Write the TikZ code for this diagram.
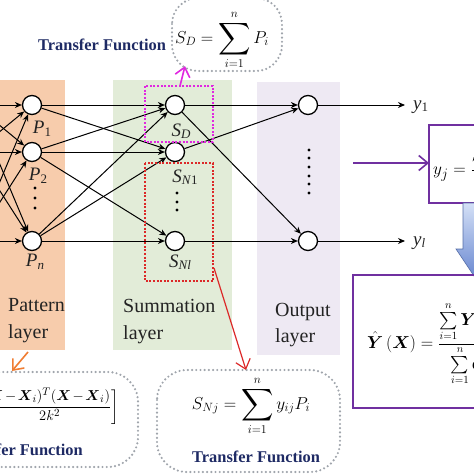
\documentclass[tikz,border=0pt]{standalone}
\usepackage{amsmath}
\usepackage{graphicx}
\usepackage{fontspec}
\setmainfont{Liberation Serif}
\usetikzlibrary{arrows.meta}
\definecolor{patorange}{RGB}{247,204,172}
\definecolor{sumgreen}{RGB}{226,236,216}
\definecolor{outlav}{RGB}{238,233,243}
\definecolor{navy}{RGB}{30,42,100}
\definecolor{purp}{RGB}{112,48,160}
\definecolor{magen}{RGB}{224,40,224}
\definecolor{dotred}{RGB}{220,40,40}
\definecolor{dotgray}{RGB}{160,165,172}
\definecolor{arrorange}{RGB}{240,125,50}
\definecolor{blueL}{RGB}{212,224,246}
\definecolor{blueD}{RGB}{108,138,210}
\definecolor{txtdark}{RGB}{35,35,35}
\newcommand\mylab[2]{\textit{#1}\raisebox{-2.5pt}{\fontsize{13}{13}\selectfont #2}}
\newcommand\bigsumop{\mathop{\vcenter{\hbox{\scalebox{1.3}{$\displaystyle\sum$}}}}\limits}
\newcommand\tmin{\mkern2mu{-}\mkern2mu}
\tikzset{
  neuron/.style={circle,draw,line width=1.3pt,minimum size=19pt,inner sep=0pt,fill=white},
  conn/.style={line width=1pt,-{Stealth[length=7pt,width=6pt]}},
  lbl/.style={font=\fontsize{19}{21}\selectfont,inner sep=0pt,text=txtdark},
  layertxt/.style={font=\fontsize{20}{24}\selectfont,text=txtdark,inner sep=0pt,anchor=base west},
  tftxt/.style={font=\fontsize{16.4}{18}\selectfont\bfseries,text=navy,inner sep=0pt,anchor=base west},
  dotbox/.style={draw=dotgray,line width=2.4pt,dash pattern=on 0pt off 4.2pt,line cap=round,rounded corners=26pt},
  barb/.style={-{Straight Barb[length=9pt,width=15pt]},line width=1.6pt},
  vdot/.style={circle,fill=black,inner sep=0pt,minimum size=3.2pt},
  fml/.style={inner sep=0pt,font=\fontsize{17}{20}\selectfont}
}
\begin{document}
\begin{tikzpicture}[x=1pt,y=-1pt]
\useasboundingbox (0,0) rectangle (474,474);
\clip (0,0) rectangle (474,474);
% layer backgrounds
\fill[patorange] (-5,80) rectangle (65,350);
\fill[sumgreen] (113,80) rectangle (232,350);
\fill[outlav] (257,82) rectangle (340,355);
% layer texts
\node[layertxt] (tpat1) at (8,311) {Pattern};
\node[layertxt] (tpat2) at (8,338) {layer};
\node[layertxt] (tsum1) at (123,312) {Summation};
\node[layertxt] (tsum2) at (123,339) {layer};
\node[layertxt] (tout1) at (275,316) {Output};
\node[layertxt] (tout2) at (275,342) {layer};
% neurons
\node[neuron] (P1) at (32,105) {};
\node[neuron] (P2) at (32,152) {};
\node[neuron] (Pn) at (32,241) {};
\node[neuron] (SD) at (175,105) {};
\node[neuron] (SN1) at (175,152) {};
\node[neuron] (SNl) at (175,241) {};
\node[neuron] (Y1) at (308,105) {};
\node[neuron] (Yl) at (308,241) {};
% inputs (outside the frame)
\coordinate (X1) at (-25,105);
\coordinate (X2) at (-25,152);
\coordinate (Xn) at (-25,241);
\foreach \a in {X1,X2,Xn}
  \foreach \b in {P1,P2,Pn}
    \draw[conn] (\a) -- (\b);
\foreach \a/\b in {P1/SD,P1/SN1,P2/SD,P2/SN1,P2/SNl,Pn/SD,Pn/SN1,Pn/SNl,SD/Y1,SD/Yl,SN1/Y1,SNl/Yl}
  \draw[conn] (\a) -- (\b);
\coordinate (o1) at (405,105);
\coordinate (ol) at (405,241);
\draw[conn] (Y1) -- (o1);
\draw[conn] (Yl) -- (ol);
\node[lbl,anchor=west] (ly1) at (413,107) {\mylab{y}{1}};
\node[lbl,anchor=west] (lyl) at (413,243) {\mylab{y}{\textit{l}}};
% neuron labels
\node[lbl] (lP1) at (42,129) {\mylab{P}{1}};
\node[lbl] (lP2) at (38,176) {\mylab{P}{2}};
\node[lbl] (lPn) at (35,262) {\mylab{P}{\textit{n}}};
\node[lbl] (lSD) at (181,131) {\mylab{S}{\textit{D}}};
\node[lbl] (lSN1) at (185,177) {\mylab{S}{\textit{N}1}};
\node[lbl] (lSNl) at (180,262) {\mylab{S}{\textit{Nl}}};
% vertical dots
\foreach \yy [count=\k] in {188,198,208} \node[vdot] (dp\k) at (35,\yy) {};
\foreach \yy [count=\k] in {193,202,210} \node[vdot] (ds\k) at (177,\yy) {};
\foreach \yy [count=\k] in {150,158,167,176,184,193} \node[vdot] (do\k) at (309,\yy) {};
% highlight boxes
\draw[magen,line width=1.3pt,dash pattern=on 2pt off 1.6pt] (145,86) rectangle (213,142);
\draw[dotred,line width=1.3pt,dash pattern=on 2pt off 1.6pt] (145,163) rectangle (213,281);
\coordinate (mgA) at (180,86);
\coordinate (mgB) at (185,66);
\draw[barb,magen] (mgA) -- (mgB);
\coordinate (rdA) at (214,268);
\coordinate (rdB) at (246,370);
\draw[barb,dotred,line width=1.2pt] (rdA) -- (rdB);
\coordinate (orA) at (28,352);
\coordinate (orB) at (12,371);
\draw[barb,arrorange] (orA) -- (orB);
% top transfer function
\draw[dotbox] (172,-2) rectangle (282,71);
\node[fml] (fSD) at (222,40) {$\displaystyle S_D=\bigsumop_{i=1}^{n}P_i$};
\node[tftxt] (tf1) at (38,50) {Transfer Function};
% bottom-left transfer function
\draw[dotbox,rounded corners=30pt] (-110,372) rectangle (138,467);
\node[fml,anchor=east,font=\fontsize{15}{18}\selectfont] (fPat) at (119,406) {$\displaystyle \exp\left[\tmin\frac{(\boldsymbol{X}\tmin\boldsymbol{X}_i)^T(\boldsymbol{X}\tmin\boldsymbol{X}_i)}{\hspace{6pt}2k^2}\right]$};
\node[tftxt,anchor=base east] (tf2) at (83,455) {Transfer Function};
% bottom-middle transfer function
\draw[dotbox,rounded corners=30pt] (157,370) rectangle (340,472);
\node[fml] (fSN) at (251,406) {$\displaystyle S_{Nj}=\bigsumop_{i=1}^{n}y_{ij}P_i$};
\node[tftxt] (tf3) at (192,462) {Transfer Function};
% right side
\draw[purp,line width=1.6pt] (429,125) rectangle (490,203);
\node[inner sep=0pt,anchor=west,font=\fontsize{19}{22}\selectfont] (fyj) at (433,170) {$\displaystyle y_j=\frac{S_{Nj}}{S_D}$};
\coordinate (pA) at (353,163);
\coordinate (pB) at (429,163);
\draw[barb,purp] (pA) -- (pB);
\draw[draw=blueD!80!black,line width=0.6pt,top color=blueL,bottom color=blueD]
  (463,203) -- (463,249) -- (456,249) -- (474,276) -- (492,249) -- (485,249) -- (485,203) -- cycle;
\draw[purp,line width=2pt] (353,275) rectangle (490,408);
\node[inner sep=0pt,anchor=west,font=\fontsize{16}{19}\selectfont] (fY) at (367,344)
  {$\hat{\boldsymbol{Y}}\left(\boldsymbol{X}\right)=\dfrac{\sum\limits_{i=1}^{n}\boldsymbol{Y}_i\exp\left(-\frac{D_i^2}{2\sigma^2}\right)}{\sum\limits_{i=1}^{n}\exp\left(-\frac{D_i^2}{2\sigma^2}\right)}$};
\end{tikzpicture}
\end{document}
